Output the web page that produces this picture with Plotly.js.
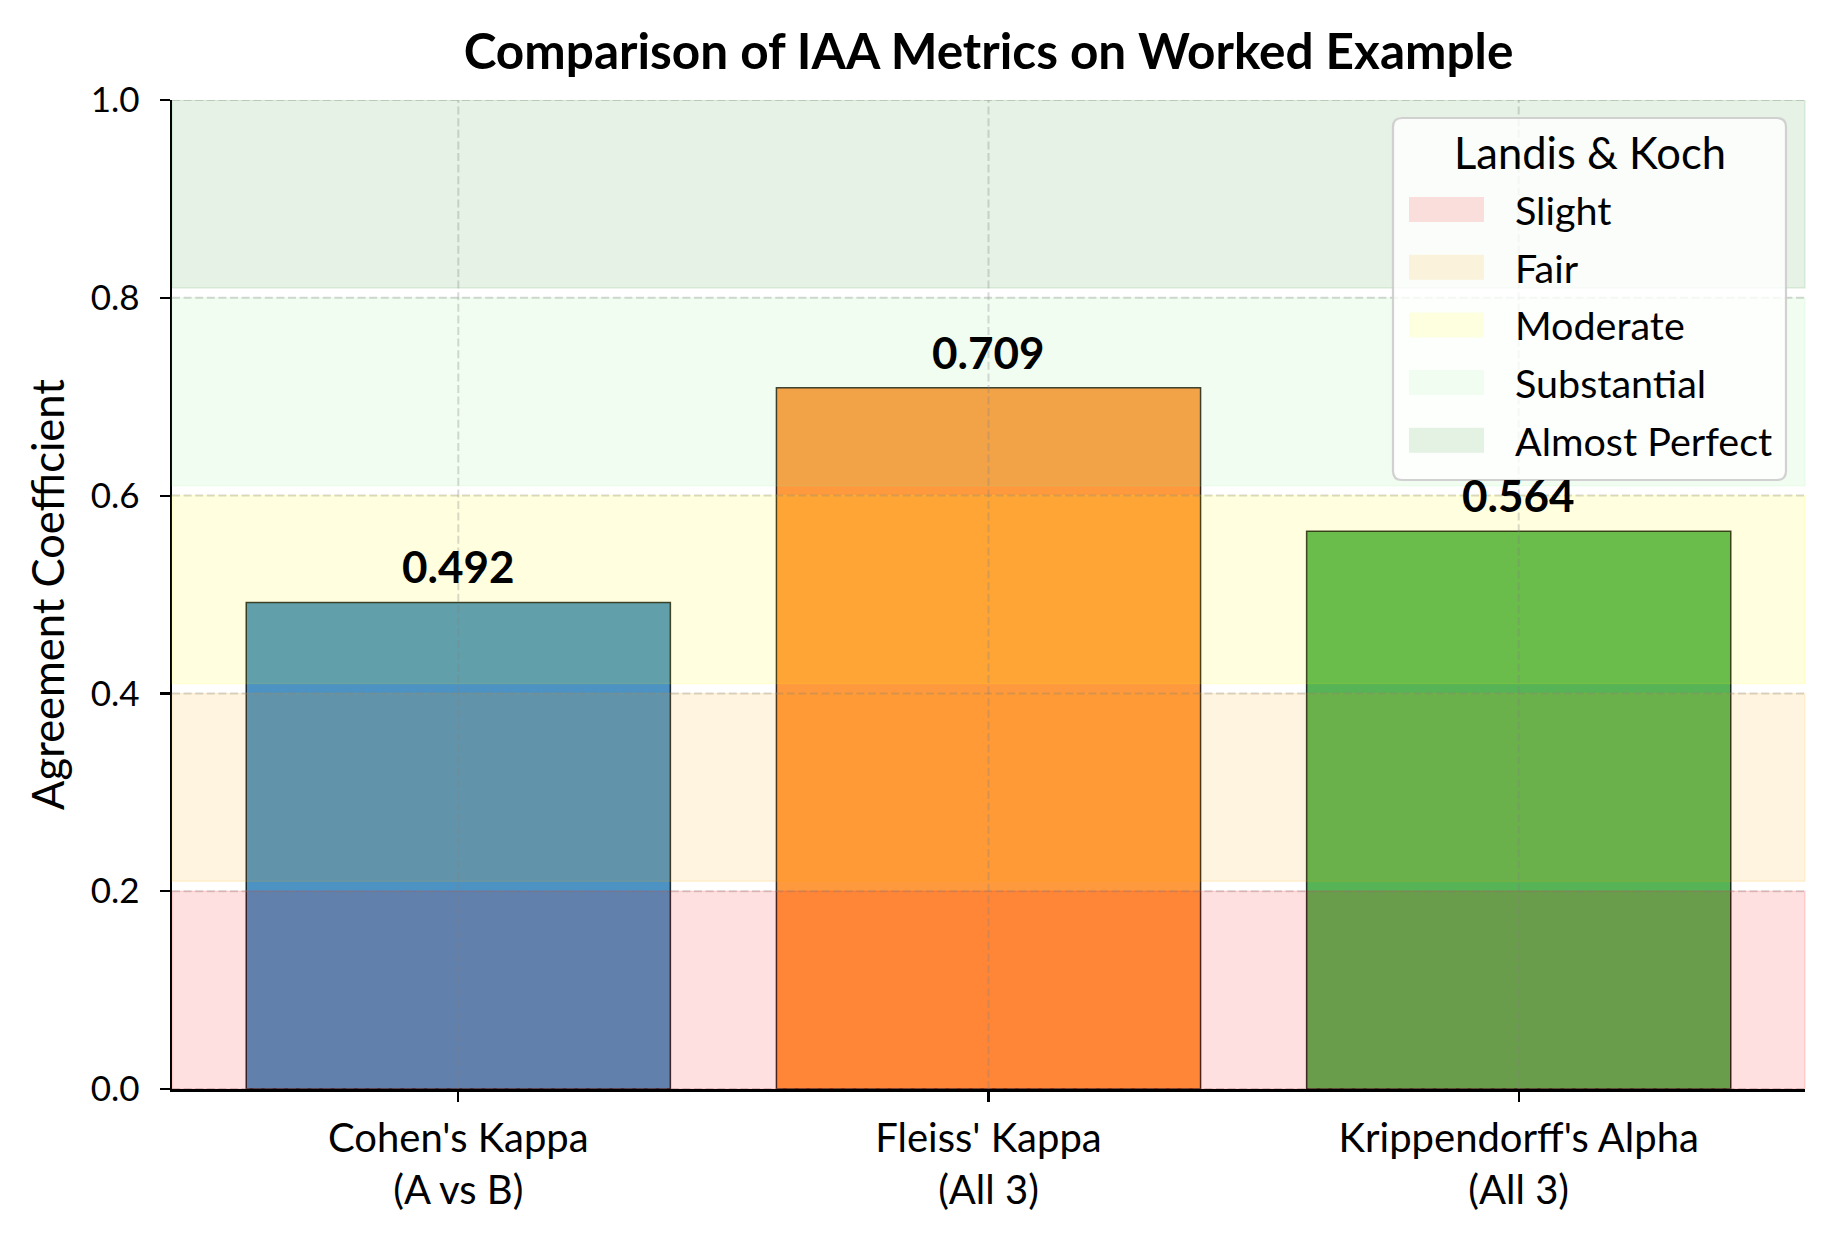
<!DOCTYPE html>
<html>
<head>
<meta charset="utf-8">
<script src="https://cdn.plot.ly/plotly-3.0.1.min.js"></script>
<style>
  html, body { margin: 0; padding: 0; background: #ffffff; }
  #chart { width: 1834px; height: 1234px; }
</style>
</head>
<body>
<div id="chart"></div>
<script>
// ---- data ----
const metrics = ["Cohen's Kappa<br>(A vs B)", "Fleiss' Kappa<br>(All 3)", "Krippendorff's Alpha<br>(All 3)"];
const scores = [0.492, 0.709, 0.564];
const barColors = ['rgba(31,119,180,0.8)', 'rgba(255,127,14,0.8)', 'rgba(44,160,44,0.8)'];

const bandNames = ['Slight', 'Fair', 'Moderate', 'Substantial', 'Almost Perfect'];
const bandLow = [0.0, 0.21, 0.41, 0.61, 0.81];
const bandHigh = [0.2, 0.4, 0.6, 0.8, 1.0];
const bandColors = ['rgba(255,0,0,0.12)', 'rgba(255,165,0,0.12)', 'rgba(255,255,0,0.12)',
                    'rgba(144,238,144,0.12)', 'rgba(0,128,0,0.10)'];

const yTicks = [0.0, 0.2, 0.4, 0.6, 0.8, 1.0];

// ---- page geometry (pixels) ----
const W = 1834, H = 1234;
const plotLeft = 172, plotRight = 1805, plotTop = 100, plotBottom = 1089;
const px = x => (x - plotLeft) / (plotRight - plotLeft);
const py = y => (plotBottom - y) / (plotBottom - plotTop);

const FONT = 'Lato, "Noto Sans", sans-serif';
const gridColor = 'rgba(128,128,128,0.3)';
const gridDash = '8px,3.6px';

const shapes = [];

// interpretation bands laid over the bars
bandNames.forEach((name, i) => {
  shapes.push({
    type: 'rect', layer: 'above', xref: 'paper', yref: 'y',
    x0: 0, x1: 1, y0: bandLow[i], y1: bandHigh[i],
    fillcolor: bandColors[i],
    line: { color: bandColors[i], width: 1.5 }
  });
});

// dashed grid on top
metrics.forEach(m => {
  shapes.push({
    type: 'line', layer: 'above', xref: 'x', yref: 'paper',
    x0: m, x1: m, y0: 0, y1: 1,
    line: { color: gridColor, width: 2, dash: gridDash }
  });
});
yTicks.forEach(t => {
  shapes.push({
    type: 'line', layer: 'above', xref: 'paper', yref: 'y',
    x0: 0, x1: 1, y0: t, y1: t,
    line: { color: gridColor, width: 2, dash: gridDash }
  });
});

// legend frame with rounded corners
function roundRect(x0, y0, x1, y1, r) {
  const X = v => px(v).toFixed(5), Y = v => py(v).toFixed(5);
  return `M${X(x0 + r)},${Y(y0)} L${X(x1 - r)},${Y(y0)} Q${X(x1)},${Y(y0)} ${X(x1)},${Y(y0 + r)} ` +
         `L${X(x1)},${Y(y1 - r)} Q${X(x1)},${Y(y1)} ${X(x1 - r)},${Y(y1)} ` +
         `L${X(x0 + r)},${Y(y1)} Q${X(x0)},${Y(y1)} ${X(x0)},${Y(y1 - r)} ` +
         `L${X(x0)},${Y(y0 + r)} Q${X(x0)},${Y(y0)} ${X(x0 + r)},${Y(y0)} Z`;
}
const legBox = { x0: 1393, y0: 118, x1: 1786, y1: 480 };
shapes.push({
  type: 'path', layer: 'above', xref: 'paper', yref: 'paper',
  path: roundRect(legBox.x0, legBox.y0, legBox.x1, legBox.y1, 9),
  fillcolor: 'rgba(255,255,255,0.8)',
  line: { color: 'rgba(204,204,204,0.9)', width: 2.2 }
});

const annotations = [];

// legend title and entries
annotations.push({
  xref: 'paper', yref: 'paper', x: px((legBox.x0 + legBox.x1) / 2), y: py(152),
  xanchor: 'center', yanchor: 'middle', showarrow: false,
  text: 'Landis &amp; Koch', font: { family: FONT, size: 43.5, color: '#000' }
});
const legFirstRow = 209.5, legRowStep = 57.7;
bandNames.forEach((name, i) => {
  const cy = legFirstRow + i * legRowStep;
  shapes.push({
    type: 'rect', layer: 'above', xref: 'paper', yref: 'paper',
    x0: px(1409), x1: px(1484), y0: py(cy + 12.5), y1: py(cy - 12.5),
    fillcolor: bandColors[i], line: { width: 0 }
  });
  annotations.push({
    xref: 'paper', yref: 'paper', x: px(1513), y: py(cy),
    xanchor: 'left', yanchor: 'middle', showarrow: false,
    text: name, font: { family: FONT, size: 39.5, color: '#000' }
  });
});

// value labels above the bars
metrics.forEach((m, i) => {
  annotations.push({
    xref: 'x', yref: 'y', x: m, y: scores[i],
    xanchor: 'center', yanchor: 'middle', yshift: 36, showarrow: false,
    text: '<b>' + scores[i].toFixed(3) + '</b>',
    font: { family: FONT, size: 44, color: '#000' }
  });
});

const data = [{
  type: 'bar',
  x: metrics,
  y: scores,
  width: 0.8,
  marker: { color: barColors, line: { color: 'rgba(0,0,0,0.8)', width: 1.5 } },
  showlegend: false,
  hoverinfo: 'skip'
}];

const layout = {
  width: W, height: H,
  paper_bgcolor: '#ffffff', plot_bgcolor: '#ffffff',
  font: { family: FONT, color: '#000' },
  margin: { l: plotLeft, r: W - plotRight, t: plotTop, b: H - plotBottom, pad: 0 },
  showlegend: false,
  title: {
    text: '<b>Comparison of IAA Metrics on Worked Example</b>',
    font: { family: FONT, size: 49.5, color: '#000' },
    xref: 'paper', x: 0.5, xanchor: 'center',
    yref: 'container', y: 1 - 52 / H, yanchor: 'middle'
  },
  xaxis: {
    type: 'category',
    range: [-0.54, 2.54],
    showgrid: false, zeroline: false,
    showline: true, linecolor: '#000', linewidth: 2.5,
    ticks: 'outside', ticklen: 10, tickwidth: 2.2, tickcolor: '#000',
    ticklabelstandoff: 2,
    tickfont: { family: FONT, size: 40, color: '#000' }
  },
  yaxis: {
    range: [0, 1],
    tickvals: yTicks, tickformat: '.1f',
    showgrid: false, zeroline: false,
    showline: true, linecolor: '#000', linewidth: 2.5,
    ticks: 'outside', ticklen: 10, tickwidth: 2.2, tickcolor: '#000',
    ticklabelstandoff: 13,
    tickfont: { family: FONT, size: 35, color: '#000' },
    title: { text: 'Agreement Coefficient', standoff: 13, font: { family: FONT, size: 43.5, color: '#000' } }
  },
  shapes: shapes,
  annotations: annotations,
  bargap: 0
};

Plotly.newPlot('chart', data, layout, { staticPlot: true, displayModeBar: false });
</script>
</body>
</html>
